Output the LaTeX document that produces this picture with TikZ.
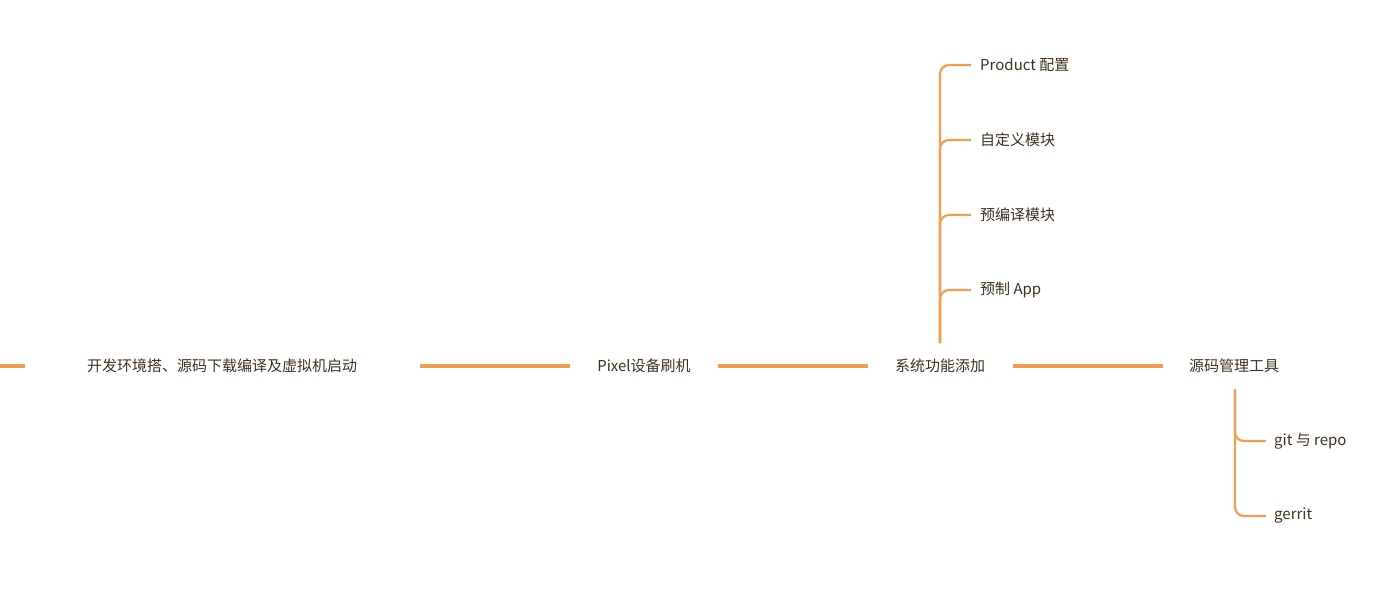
\documentclass[tikz,border=0pt]{standalone}
\usepackage{fontspec}
\setmainfont{Noto Sans CJK SC}
\definecolor{ora}{HTML}{F59D4E}
\definecolor{txt}{HTML}{3F3120}
\begin{document}
\begin{tikzpicture}[x=1pt,y=-1pt,
  mainline/.style={draw=ora,line width=3.5pt},
  br/.style={draw=ora,line width=2.2pt,rounded corners=9pt},
  lab/.style={text=txt,font=\fontsize{15}{18}\selectfont,inner sep=0pt},
  leaf/.style={lab,anchor=west}]
\useasboundingbox (0,0) rectangle (1394,600);
\node[lab] (a) at (222,366) {开发环境搭、源码下载编译及虚拟机启动};
\node[lab] (b) at (644,366) {Pixel设备刷机};
\node[lab] (c) at (940,366) {系统功能添加};
\node[lab] (d) at (1234,366) {源码管理工具};
\coordinate (s) at (0,366);
\draw[mainline] (s) -- (25,366);
\draw[mainline] (420,366) -- (570,366);
\draw[mainline] (718,366) -- (868,366);
\draw[mainline] (1013,366) -- (1163,366);
\node[leaf] (c1) at (980,65) {Product 配置};
\node[leaf] (c2) at (980,140) {自定义模块};
\node[leaf] (c3) at (980,215) {预编译模块};
\node[leaf] (c4) at (980,290) {预制 App};
\foreach \y in {65,140,215,290}
  \draw[br] (940,343) -- (940,\y) -- (971,\y);
\node[leaf] (d1) at (1274,441) {git 与 repo};
\node[leaf] (d2) at (1274,516) {gerrit};
\foreach \y in {441,516}
  \draw[br] (1235,389) -- (1235,\y) -- (1266,\y);
\end{tikzpicture}
\end{document}
